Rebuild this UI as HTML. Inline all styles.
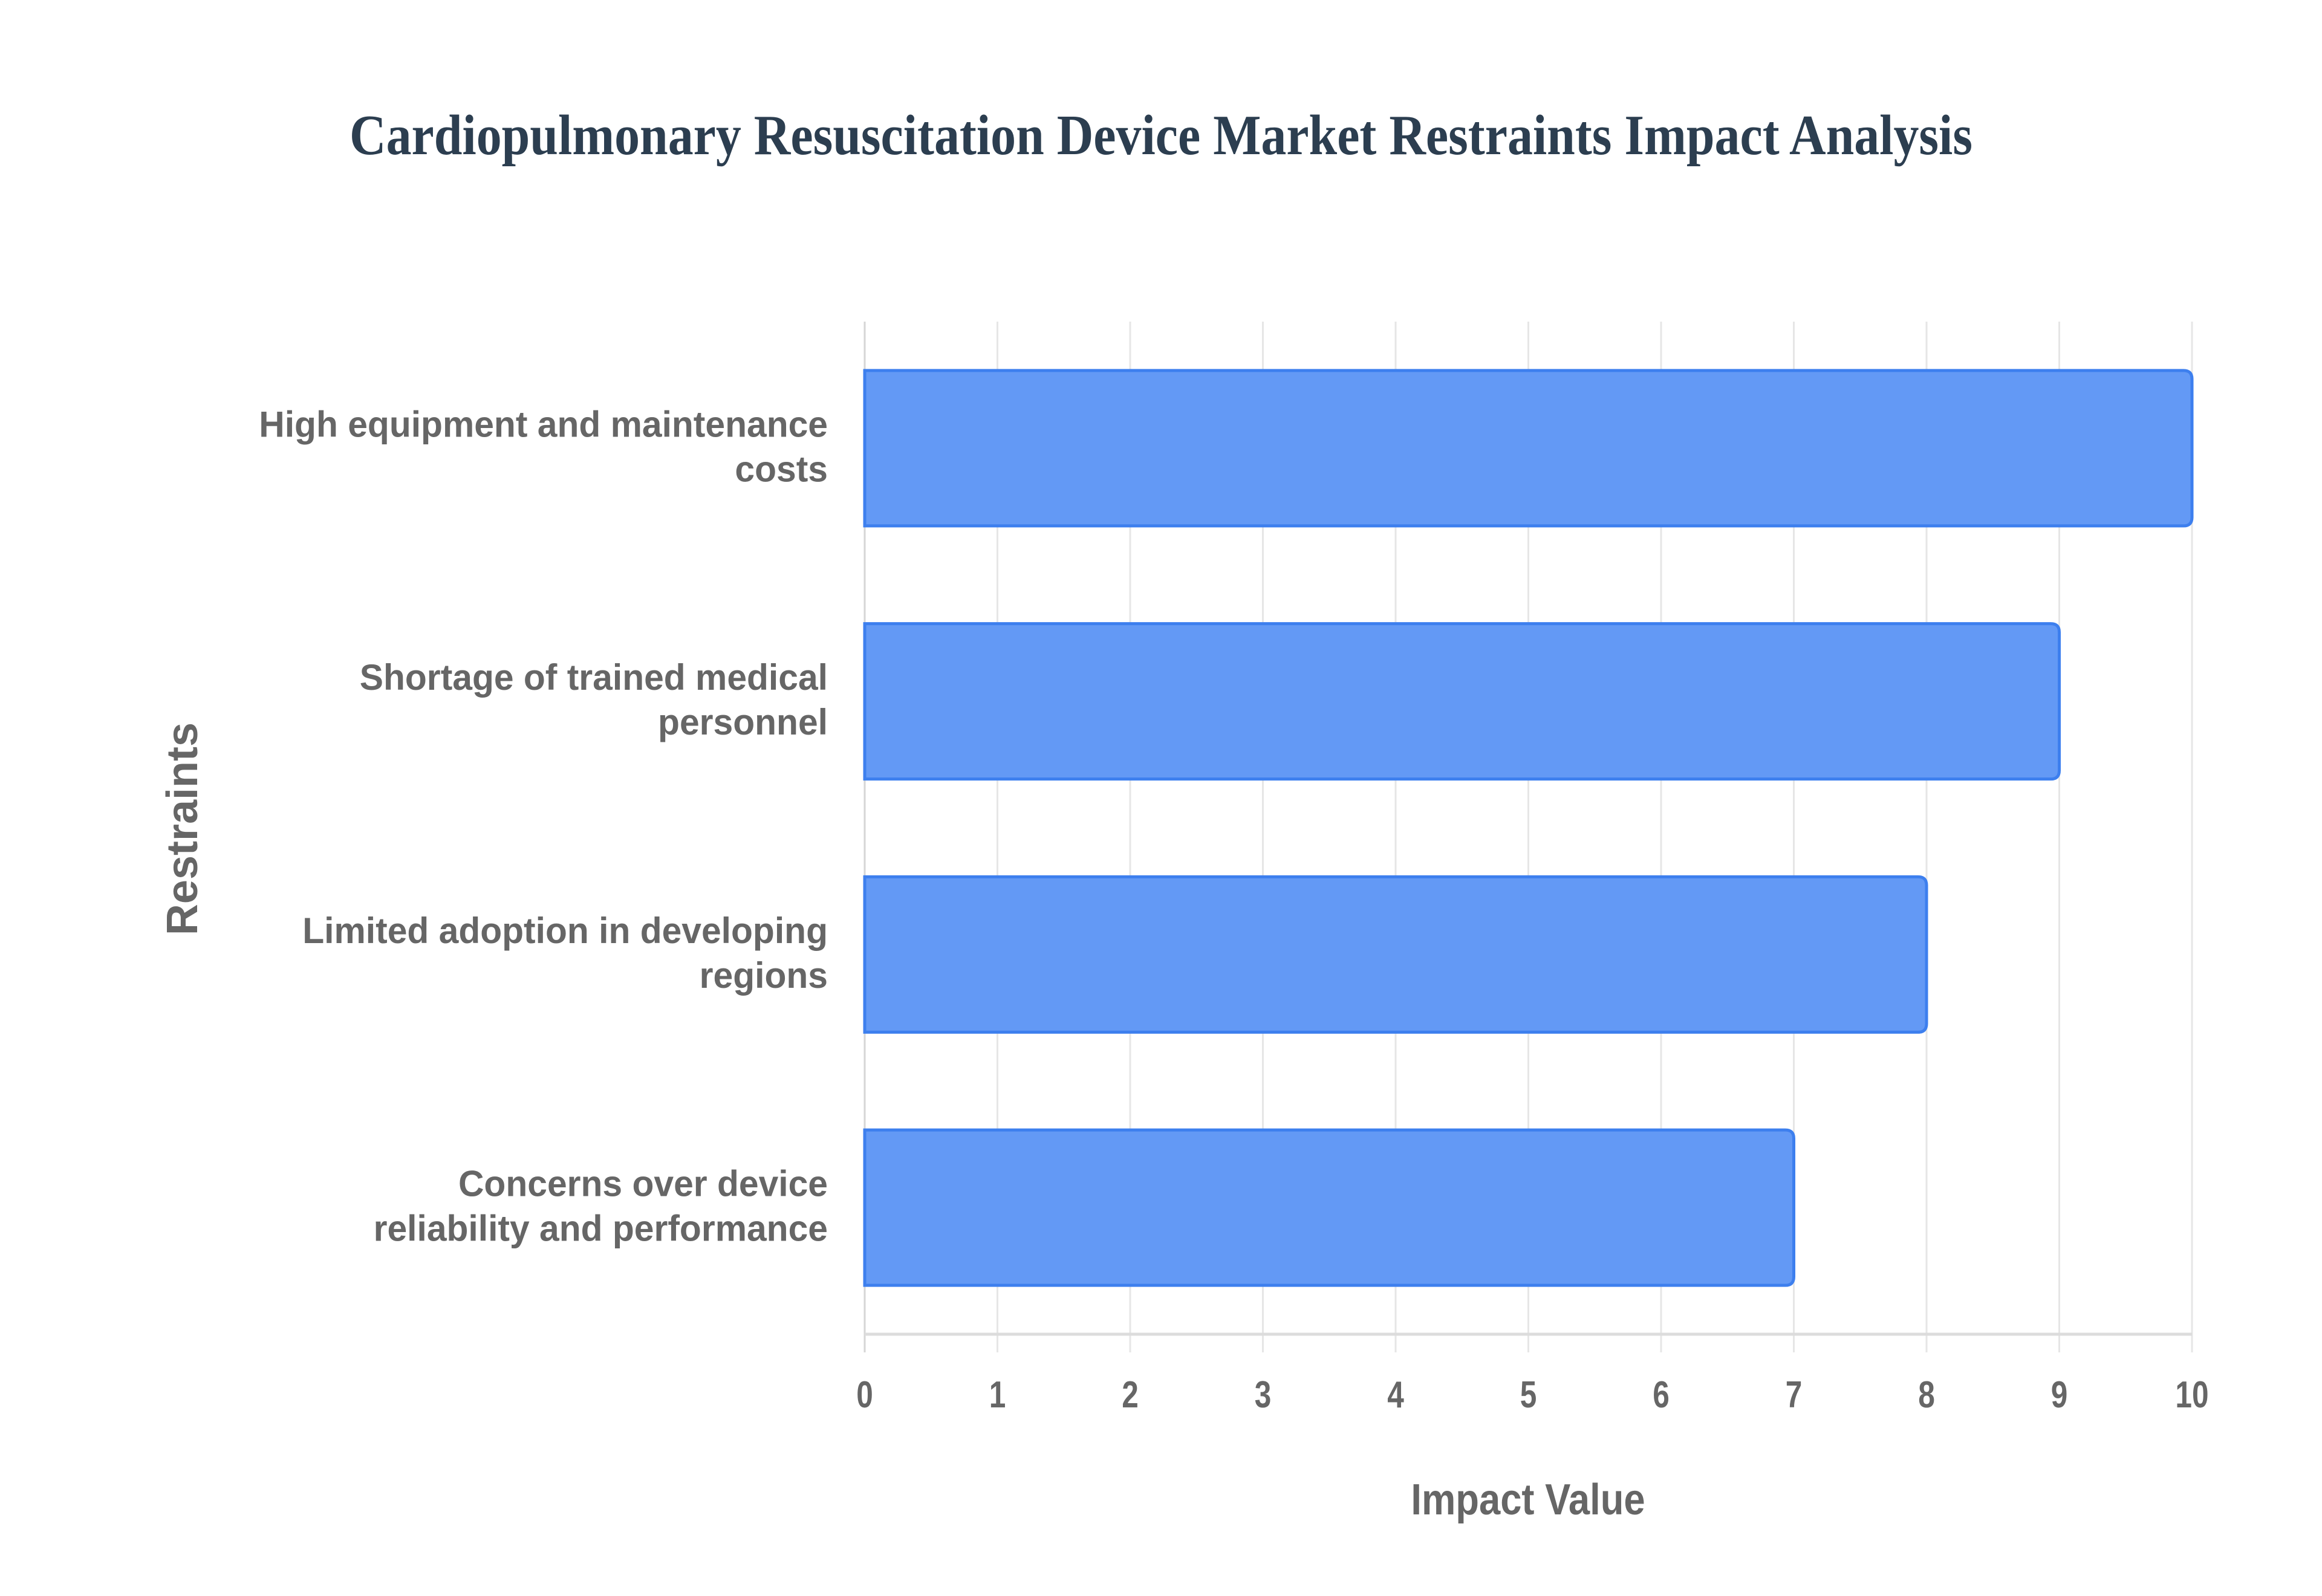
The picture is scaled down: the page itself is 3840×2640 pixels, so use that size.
<!DOCTYPE html>
<html><head><meta charset="utf-8"><style>
html,body{margin:0;padding:0;background:#fff;}
svg{display:block;}
</style></head><body>
<svg id="chart" width="3840" height="2640" viewBox="0 0 3840 2640" xmlns="http://www.w3.org/2000/svg">
<rect width="3840" height="2640" fill="#fff"/>
<text x="1920" y="255" text-anchor="middle" font-family="Liberation Serif, serif" font-weight="bold" font-size="94" fill="#2c3e50" textLength="2684" lengthAdjust="spacingAndGlyphs">Cardiopulmonary Resuscitation Device Market Restraints Impact Analysis</text>
<g id="grid"></g>
<g id="bars"></g>
<g id="labels"></g>
<text x="2527" y="2505" text-anchor="middle" font-family="Liberation Sans, sans-serif" font-weight="bold" font-size="72" fill="#666" transform="translate(2527 0) scale(0.88 1) translate(-2527 0)">Impact Value</text>
<text x="0" y="0" text-anchor="middle" font-family="Liberation Sans, sans-serif" font-weight="bold" font-size="72" fill="#666" transform="translate(326 1371) rotate(-90) scale(1 1)">Restraints</text>
</svg>
<script>
const categories = [["High equipment and maintenance","costs"],["Shortage of trained medical","personnel"],["Limited adoption in developing","regions"],["Concerns over device","reliability and performance"]];
const values = [10, 9, 8, 7];
const tickLabels = [0,1,2,3,4,5,6,7,8,9,10];

const NS = "http://www.w3.org/2000/svg";
const X0 = 1430, X1 = 3625, YT = 532, YB = 2207;
const xMax = 10;
function xs(v){ return X0 + (X1 - X0) * v / xMax; }
const band = (YB - YT) / categories.length;
function yc(i){ return YT + band * (i + 0.5); }
const barH = band * 0.614;

const grid = document.getElementById('grid');
tickLabels.forEach(t => {
  const l = document.createElementNS(NS, 'line');
  l.setAttribute('x1', xs(t)); l.setAttribute('x2', xs(t));
  l.setAttribute('y1', YT); l.setAttribute('y2', YB + 30);
  l.setAttribute('stroke', t === 0 ? '#d6d6d6' : '#e6e6e6'); l.setAttribute('stroke-width', '3');
  
  
  grid.appendChild(l);
  const tx = document.createElementNS(NS, 'text');
  tx.setAttribute('x', xs(t)); tx.setAttribute('y', 2328);
  tx.setAttribute('text-anchor', 'middle');
  tx.setAttribute('font-family', 'Liberation Sans, sans-serif');
  tx.setAttribute('font-weight', 'bold'); tx.setAttribute('font-size', '62');
  tx.setAttribute('fill', '#666');
  tx.setAttribute('transform', `translate(${xs(t)} 0) scale(0.8 1) translate(${-xs(t)} 0)`);
  tx.textContent = t;
  
  
  grid.appendChild(tx);
});
const ax = document.createElementNS(NS, 'line');
ax.setAttribute('x1', X0); ax.setAttribute('x2', X1); ax.setAttribute('y1', YB); ax.setAttribute('y2', YB);
ax.setAttribute('stroke', '#dcdcdc'); ax.setAttribute('stroke-width', '5');


grid.appendChild(ax);

const bars = document.getElementById('bars');
const labels = document.getElementById('labels');
values.forEach((v, i) => {
  const top = yc(i) - barH / 2;
  const w = xs(v) - X0;
  const r = 14;
  const p = document.createElementNS(NS, 'path');
  p.setAttribute('d', `M${X0},${top} H${X0 + w - r} Q${X0 + w},${top} ${X0 + w},${top + r} V${top + barH - r} Q${X0 + w},${top + barH} ${X0 + w - r},${top + barH} H${X0} Z`);
  p.setAttribute('fill', '#6399f5'); p.setAttribute('stroke', '#3d7fee'); p.setAttribute('stroke-width', '5');
  
  
  bars.appendChild(p);

  const lines = categories[i];
  const g = document.createElementNS(NS, 'text');
  g.setAttribute('text-anchor', 'end');
  g.setAttribute('font-family', 'Liberation Sans, sans-serif');
  g.setAttribute('font-weight', 'bold'); g.setAttribute('font-size', '60');
  g.setAttribute('fill', '#666');
  g.setAttribute('transform', `translate(1369 0) scale(0.98 1) translate(-1369 0)`);
  
  
  lines.forEach((ln, j) => {
    const ts = document.createElementNS(NS, 'tspan');
    ts.setAttribute('x', 1369);
    ts.setAttribute('y', yc(i) + 18 - 37 * (lines.length - 1) + 74 * j);
    ts.textContent = ln;
    g.appendChild(ts);
  });
  labels.appendChild(g);
});
</script>
</body></html>
